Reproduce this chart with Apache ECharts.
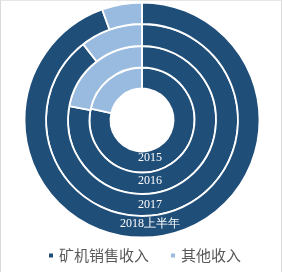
<!DOCTYPE html>
<html>
<head>
<meta charset="utf-8">
<script src="https://cdn.jsdelivr.net/npm/echarts@6/dist/echarts.min.js"></script>
<style>
html,body{margin:0;padding:0;background:#fff;}
#c{width:282px;height:272px;box-sizing:border-box;border-left:1px solid #d9d9d9;border-top:1px solid #e6e6e6;border-right:1px solid #d9d9d9;}
</style>
</head>
<body>
<div id="c"></div>
<script>
// Data
var years = ['2015', '2016', '2017', '2018上半年'];
var seriesNames = ['矿机销售收入', '其他收入'];
var miningShare = [78.5, 78, 89.5, 94.5];
var otherShare = [21.5, 22, 10.5, 5.5];

var colors = ['#1F4E79', '#9ABBE0'];
var ringRadii = [[31.5, 52.5], [52.5, 74], [74, 96], [96, 117.5]];
var labelY = [157, 180, 204, 223];
var cx = 141, cy = 119;

var chart = echarts.init(document.getElementById('c'), null, {renderer: 'canvas'});
var series = years.map(function (y, i) {
  return {
    type: 'pie',
    name: y,
    center: [cx, cy],
    radius: ringRadii[i],
    startAngle: 90,
    clockwise: true,
    silent: true,
    label: {show: false},
    labelLine: {show: false},
    itemStyle: {borderColor: '#fff', borderWidth: 1.8},
    data: [
      {name: seriesNames[0], value: miningShare[i]},
      {name: seriesNames[1], value: otherShare[i]}
    ]
  };
});
var graphics = years.map(function (y, i) {
  return {
    type: 'text',
    x: 149,
    y: labelY[i],
    style: {
      text: y,
      fill: '#fff',
      font: '12px "Liberation Serif", serif',
      textAlign: 'center',
      textVerticalAlign: 'middle'
    },
    z: 100
  };
});
chart.setOption({
  animation: false,
  color: colors,
  legend: {
    data: seriesNames,
    left: 41,
    top: 242,
    icon: 'rect',
    itemWidth: 6,
    itemHeight: 6,
    itemGap: 20,
    textStyle: {fontSize: 15, color: '#595959', fontFamily: '"Noto Sans CJK SC", sans-serif'}
  },
  graphic: graphics,
  series: series
});
</script>
</body>
</html>
